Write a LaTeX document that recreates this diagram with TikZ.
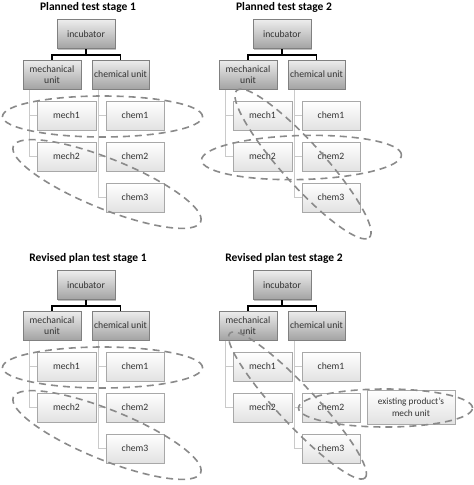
\documentclass[tikz,border=0pt]{standalone}
\usepackage{fontspec}
\setmainfont{Carlito}
\usetikzlibrary{shadows,backgrounds}
\definecolor{topL}{HTML}{EDEDED}
\definecolor{topD}{HTML}{A3A3A3}
\definecolor{leafD}{HTML}{E2E2E2}
\definecolor{bordT}{HTML}{808080}
\definecolor{bordL}{HTML}{A8A8A8}
\definecolor{sublinecol}{HTML}{CACACA}
\definecolor{ringc}{HTML}{8A8A8A}
\tikzset{
  boxbase/.style={rectangle, minimum width=58pt, minimum height=29pt, inner sep=1pt, align=center,
    font=\fontsize{9.7}{10.5}\selectfont, text=black!80,
    drop shadow={shadow xshift=1.2pt, shadow yshift=-1.2pt, opacity=0.25, fill=black}},
  topbox/.style={boxbase, draw=bordT, line width=0.6pt, top color=topL, bottom color=topD},
  leafbox/.style={boxbase, draw=bordL, line width=0.5pt, top color=white, bottom color=leafD},
  ttl/.style={font=\fontsize{11.5}{12}\selectfont\bfseries, inner sep=0pt},
  mainln/.style={line width=1.8pt, draw=black},
  subline/.style={line width=1.2pt, draw=sublinecol},
  ring/.style={line width=1.6pt, draw=ringc, dash pattern=on 7pt off 5pt}
}
\newcommand{\orgpanel}[4]{%
\begin{scope}[shift={(#2,#3)}]
  \node[ttl] (#1t) at (88,7) {#4};
  \node[topbox] (#1inc) at (86,34) {incubator};
  \node[topbox] (#1mu) at (52,74.5) {mechanical\\unit};
  \node[topbox, minimum width=57pt] (#1cu) at (120.5,74.5) {chemical unit};
  \node[leafbox, minimum width=59pt] (#1ma) at (66.5,115.5) {mech1};
  \node[leafbox] (#1ca) at (135,115.5) {chem1};
  \node[leafbox, minimum width=59pt] (#1mb) at (66.5,156.5) {mech2};
  \node[leafbox] (#1cb) at (135,156.5) {chem2};
  \node[leafbox] (#1cc) at (135,197.5) {chem3};
  \begin{pgfonlayer}{background}
    \draw[mainln] (#1inc.south) -- ++(0,6.5) -| (#1mu.north);
    \draw[mainln] (#1inc.south) -- ++(0,6.5) -| (#1cu.north);
    \draw[subline] ([xshift=6.5pt]#1mu.south west) |- (#1ma.west);
    \draw[subline] ([xshift=6.5pt]#1mu.south west) |- (#1mb.west);
    \draw[subline] ([xshift=7pt]#1cu.south west) |- (#1ca.west);
    \draw[subline] ([xshift=7pt]#1cu.south west) |- (#1cb.west);
    \draw[subline] ([xshift=7pt]#1cu.south west) |- (#1cc.west);
  \end{pgfonlayer}
\end{scope}}
\begin{document}
\begin{tikzpicture}[x=1pt, y=-1pt]
\useasboundingbox (0,0) rectangle (474,485);
\orgpanel{A}{0}{0}{Planned test stage 1}
\orgpanel{B}{196}{0}{Planned test stage 2}
\orgpanel{C}{0}{251}{Revised plan test stage 1}
\orgpanel{D}{196}{251}{Revised plan test stage 2}
\node[leafbox, minimum width=88pt, minimum height=34pt, font=\fontsize{9.3}{11.5}\selectfont] (Dex) at (411,407) {existing product's\\mech unit};
% rings, panel 1
\draw[ring] (102.5,116.5) ellipse [x radius=100pt, y radius=20.5pt];
\draw[ring, rotate around={-22:(107,184)}] (107,184) ellipse [x radius=101pt, y radius=25pt];
% panel 2
\draw[ring, rotate around={1.5:(301.5,157.5)}] (301.5,157.5) ellipse [x radius=100pt, y radius=22pt];
\draw[ring, rotate around={-48:(303,164)}] (303,164) ellipse [x radius=99pt, y radius=21pt];
% panel 3
\draw[ring] (102.5,367.5) ellipse [x radius=100pt, y radius=20.5pt];
\draw[ring, rotate around={-22:(107,435)}] (107,435) ellipse [x radius=101pt, y radius=25pt];
% panel 4
\draw[ring, rotate around={-47:(297.5,405.5)}] (297.5,405.5) ellipse [x radius=99pt, y radius=19pt];
\draw[ring] (385.5,408) ellipse [x radius=87pt, y radius=19pt];
\end{tikzpicture}
\end{document}
